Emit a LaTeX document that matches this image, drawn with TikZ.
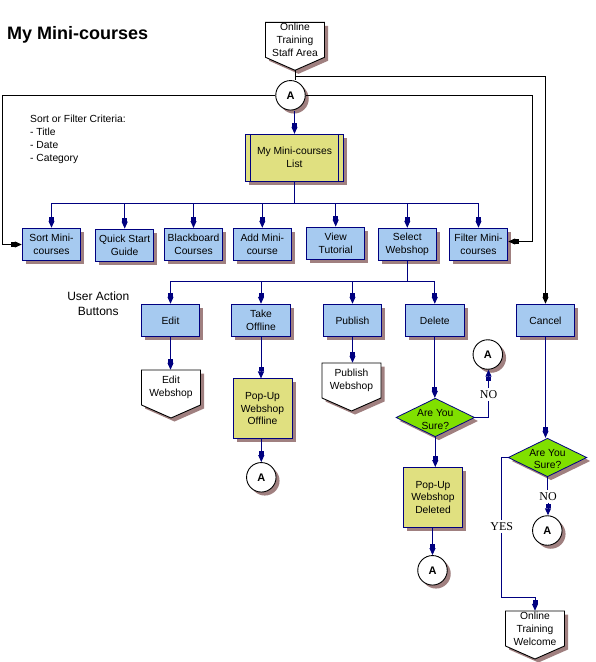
\documentclass[tikz,border=0pt]{standalone}
\usepackage{fontspec}
\setmainfont{Liberation Sans}
\newfontfamily\serifnum{Liberation Serif}
\usetikzlibrary{arrows.meta,shapes.geometric,shadows}
\definecolor{navy}{RGB}{0,0,128}
\definecolor{boxblue}{RGB}{166,202,240}
\definecolor{yelc}{RGB}{224,224,128}
\definecolor{grnc}{RGB}{128,224,0}
\definecolor{shadowc}{RGB}{160,128,128}
\tikzset{mytip/.tip={Rectangle[length=4pt,width=5pt,sep=0pt]Triangle[length=7pt,width=6pt]}}
\newcommand\offpage[4]{%
  \fill[shadowc] (#2-26,#3+3.5) -- ++(59,0) -- ++(0,35) -- ++(-29.5,13) -- ++(-29.5,-13) -- cycle;
  \draw[line width=0.9pt,fill=white] (#2-29.5,#3) -- ++(59,0) -- ++(0,35) -- ++(-29.5,13) -- ++(-29.5,-13) -- cycle;
  \node[txt,minimum width=59pt,minimum height=35pt] (#1) at (#2,#3+17.5) {#4};
  \coordinate (#1tip) at (#2,#3+48);
}
\begin{document}
\begin{tikzpicture}[x=1pt,y=-1pt,
  txt/.style={font=\fontsize{10.3}{13}\selectfont,align=center,inner sep=0pt},
  shad/.style={drop shadow={shadow xshift=3.5pt,shadow yshift=-3.5pt,opacity=1,fill=shadowc}},
  bluebox/.style={txt,draw=navy,line width=1pt,fill=boxblue,minimum width=58.4pt,minimum height=32.4pt,shad},
  yelbox/.style={txt,font=\fontsize{10.3}{12.7}\selectfont,draw=navy,line width=1pt,fill=yelc,minimum width=59pt,minimum height=59.5pt,shad},
  listbox/.style={txt,draw=navy,line width=1pt,fill=yelc,minimum width=98.4pt,minimum height=46.7pt,shad},
  diam/.style={diamond,draw=navy,line width=0.8pt,fill=grnc,minimum width=78.6pt,minimum height=38.5pt,inner sep=0pt,shad},
  circ/.style={circle,draw=black,line width=0.9pt,fill=white,minimum size=29.5pt,inner sep=0pt,font=\bfseries\fontsize{11}{11}\selectfont,shad},
  lbl/.style={font=\serifnum\fontsize{12}{12}\selectfont,inner sep=2pt,fill=white},
  nv/.style={draw=navy,line width=1pt},
  nva/.style={nv,-mytip},
  bk/.style={draw=black,line width=1pt},
  bka/.style={bk,-mytip},
]
\useasboundingbox (0,0) rectangle (596,662);
\fill[white] (0,0) rectangle (596,662);

\node[anchor=base west,font=\bfseries\fontsize{18}{20}\selectfont,inner sep=0pt] (title) at (7,39.3) {My Mini-courses};

\offpage{staff}{295}{22.3}{Online\\Training\\Staff Area}
\node[circ] (Atop) at (290.5,95.3) {A};

\node[txt,align=left,anchor=west] (crit) at (30,139.2) {Sort or Filter Criteria:\\- Title\\- Date\\- Category};

\node[listbox] (list) at (294.5,157.7) {My Mini-courses\\List};
\draw[navy,line width=1pt] ([xshift=6pt]list.north west) -- ([xshift=6pt]list.south west);
\draw[navy,line width=1pt] ([xshift=-6pt]list.north east) -- ([xshift=-6pt]list.south east);

% row 1
\node[bluebox] (sort) at (51.5,244.5) {Sort Mini-\\courses};
\node[bluebox] (quick) at (124.7,245.3) {Quick Start\\Guide};
\node[bluebox] (bb) at (193.5,244.7) {Blackboard\\Courses};
\node[bluebox] (add) at (262.3,244.5) {Add Mini-\\course};
\node[bluebox] (view) at (335.7,243.3) {View\\Tutorial};
\node[bluebox] (select) at (407.3,244.5) {Select\\Webshop};
\node[bluebox] (filter) at (478.5,244.5) {Filter Mini-\\courses};

\node[font=\fontsize{12}{15}\selectfont,align=center,inner sep=0pt] (uab) at (98.3,304.2) {User Action\\Buttons};

% row 2
\node[bluebox] (edit) at (170.5,320.5) {Edit};
\node[bluebox] (offline) at (261,320.5) {Take\\Offline};
\node[bluebox] (publish) at (352.5,320.5) {Publish};
\node[bluebox] (delete) at (434.8,320.5) {Delete};
\node[bluebox] (cancel) at (545.5,320.5) {Cancel};

\offpage{editws}{171}{370}{Edit\\Webshop}
\offpage{pubws}{351.5}{363}{Publish\\Webshop}
\offpage{welcome}{535}{611}{Online\\Training\\Welcome}

\node[yelbox] (popoff) at (262.5,408.7) {Pop-Up\\Webshop\\Offline};
\node[circ] (A1) at (261.3,477.3) {A};

\node[diam,label={[txt,yshift=-2pt]center:Are You\\Sure?}] (d1) at (435.3,417.5) {};
\node[lbl] (no1) at (488.5,394.3) {NO};
\node[circ] (A2) at (487.8,354.5) {A};
\node[yelbox] (popdel) at (433,497.3) {Pop-Up\\Webshop\\Deleted};
\node[circ] (A3) at (432.5,570.3) {A};

\node[diam,label={[txt,yshift=-1.5pt]center:Are You\\Sure?}] (d2) at (547.5,457.5) {};
\node[lbl] (no2) at (548,496.7) {NO};
\node[circ] (A4) at (547.3,530.5) {A};
\node[lbl] (yes) at (501.7,526.7) {YES};

% connectors from the top
\draw[bk] (stafftip) -- (stafftip |- Atop.north);
\draw[bka] (stafftip) -- ++(0,6) -| (cancel.north);
\draw[bka] (Atop.west) -- (2,95.3) |- (sort.west);
\draw[bka] (Atop.east) -- (532,95.3) |- ([yshift=3pt]filter.east);
\draw[nva] (list.north |- Atop.south) -- (list.north);

% bus 1
\coordinate (bus1) at (0,203);
\draw[nv] (list.south) -- (list.south |- bus1);
\draw[nv] (sort.north |- bus1) -- (filter.north |- bus1);
\foreach \n in {sort,quick,bb,add,view,select,filter}
  \draw[nva] (\n.north |- bus1) -- (\n.north);

% bus 2
\coordinate (bus2) at (0,281.3);
\draw[nv] (select.south) -- (select.south |- bus2);
\draw[nv] (edit.north |- bus2) -- (delete.north |- bus2);
\foreach \n in {edit,offline,publish,delete}
  \draw[nva] (\n.north |- bus2) -- (\n.north);

% downward flows
\draw[nva] (edit.south) -- (edit.south |- editws.north);
\draw[nva] (offline.south) -- (offline.south |- popoff.north);
\draw[nva] (popoff.south -| A1.north) -- (A1.north);
\draw[nva] (publish.south) -- (publish.south |- pubws.north);
\draw[nva] (delete.south) -- (delete.south |- d1.north);
\draw[nv] (d1.east) -| (no1.south);
\draw[nva] (no1.north) -- (no1.north |- A2.south);
\draw[nva] (d1.south) -- (d1.south |- popdel.north);
\draw[nva] (popdel.south -| A3.north) -- (A3.north);
\draw[nva] (cancel.south) -- (cancel.south |- d2.north);
\draw[nv] (d2.south) -- (d2.south |- no2.north);
\draw[nva] (no2.south) -- (no2.south |- A4.north);
\draw[nv] (d2.west) -| (yes.north);
\draw[nva] (yes.south) |- ([yshift=13.7pt]welcome.north) -- (welcome.north);
\end{tikzpicture}
\end{document}
